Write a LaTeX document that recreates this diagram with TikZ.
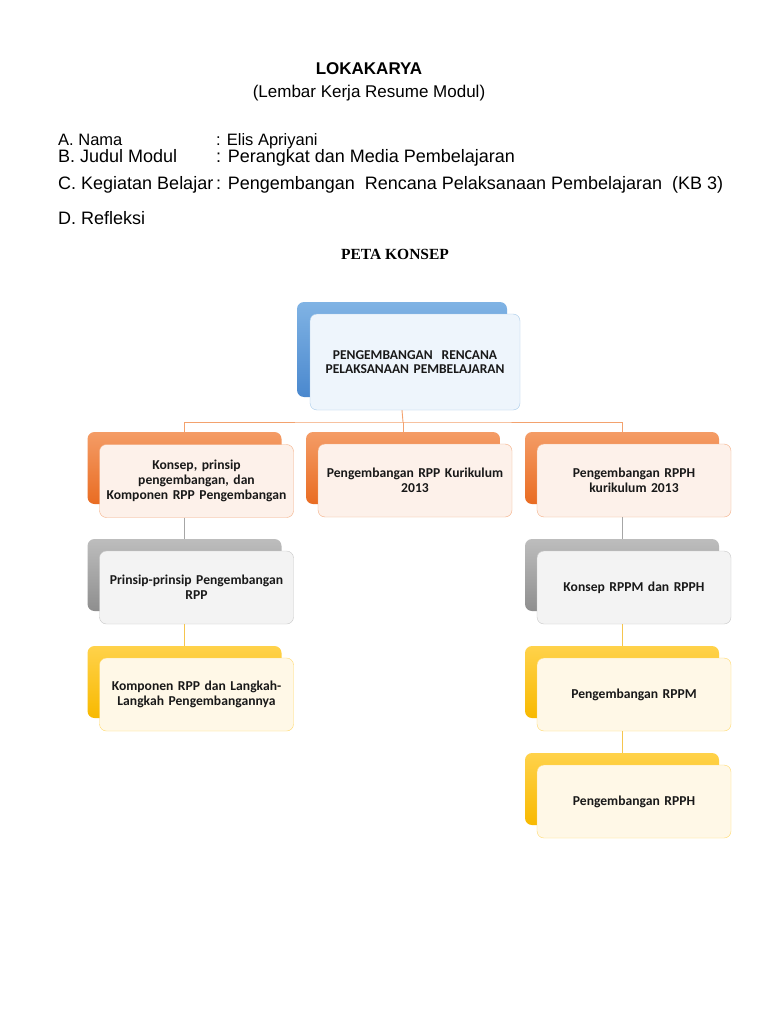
\documentclass[tikz,border=0pt]{standalone}
\usepackage{fontspec}
\setmainfont{Liberation Sans}
\newfontfamily\boxfont{Carlito}
\newfontfamily\titlefont{Liberation Serif}
\usetikzlibrary{positioning,calc}
\definecolor{pkbluetop}{HTML}{80B3E4}
\definecolor{pkbluebot}{HTML}{4A88CE}
\definecolor{pkorangetop}{HTML}{F49C66}
\definecolor{pkorangebot}{HTML}{E96C22}
\definecolor{pkgraytop}{HTML}{BDBDBD}
\definecolor{pkgraybot}{HTML}{8E8E8E}
\definecolor{pkyellowtop}{HTML}{FFD24A}
\definecolor{pkyellowbot}{HTML}{F8B900}
\definecolor{pkline}{HTML}{F3A26E}
\definecolor{pkgrayline}{HTML}{A6A6A6}
\definecolor{pkyellowline}{HTML}{F5C54E}
\definecolor{pkbluefill}{HTML}{EEF5FC}
\definecolor{pkbluedraw}{HTML}{A9CBEA}
\definecolor{pkorangefill}{HTML}{FDF1EA}
\definecolor{pkorangedraw}{HTML}{F4AE84}
\definecolor{pkgrayfill}{HTML}{F3F3F3}
\definecolor{pkgraydraw}{HTML}{C8C8C8}
\definecolor{pkyellowfill}{HTML}{FFF8E7}
\definecolor{pkyellowdraw}{HTML}{FFD96A}

\begin{document}
\begin{tikzpicture}[x=1pt, y=-1pt,
    back/.style={rounded corners=7pt, minimum width=194pt, minimum height=72pt, inner sep=0pt},
    front/.style={draw, rounded corners=7pt, minimum width=194pt, minimum height=73pt, inner sep=2pt,
        text width=190pt, align=center, text=black!90,
        font=\boxfont\bfseries\fontsize{13.6}{15}\selectfont},
    blueback/.style={back, top color=pkbluetop, bottom color=pkbluebot},
    orangeback/.style={back, top color=pkorangetop, bottom color=pkorangebot},
    grayback/.style={back, top color=pkgraytop, bottom color=pkgraybot},
    yellowback/.style={back, top color=pkyellowtop, bottom color=pkyellowbot},
    bluefront/.style={front, fill=pkbluefill, draw=pkbluedraw},
    orangefront/.style={front, fill=pkorangefill, draw=pkorangedraw},
    grayfront/.style={front, fill=pkgrayfill, draw=pkgraydraw},
    yellowfront/.style={front, fill=pkyellowfill, draw=pkyellowdraw},
    link/.style={line width=0.9pt},
    head/.style={anchor=base west, inner sep=0pt, font=\fontsize{18}{21}\selectfont}
]
    \fill[white] (0,0) rectangle (768,1024);
    \useasboundingbox (0,0) rectangle (768,1024);

    % heading
    \node[anchor=base, inner sep=0pt, font=\bfseries\fontsize{17}{20}\selectfont] (judul) at (369,75) {LOKAKARYA};
    \node[anchor=base, inner sep=0pt, font=\fontsize{17}{20}\selectfont] (subjudul) at (369,98) {(Lembar Kerja Resume Modul)};
    \node[head, font=\fontsize{16.5}{20}\selectfont] (nama) at (58,146) {A. Nama};
    \node[head, font=\fontsize{16.5}{20}\selectfont] (namaisi) at (216,146) {: Elis Apriyani};
    \node[head] (modul) at (58,163) {B. Judul Modul};
    \node[head] (modulisi) at (216,163) {: Perangkat dan Media Pembelajaran};
    \node[head] (kb) at (58,190) {C. Kegiatan Belajar};
    \node[head] (kbisi) at (216,190) {: Pengembangan\ \ Rencana Pelaksanaan Pembelajaran\ \ (KB 3)};
    \node[head] (refleksi) at (58,225) {D. Refleksi};
    \node[anchor=base, inner sep=0pt, font=\titlefont\bfseries\fontsize{15.5}{18}\selectfont] (peta) at (395,259) {PETA KONSEP};

    % back boxes
    \node[blueback, minimum width=210pt, minimum height=95pt] (topb) at (402,349.5) {};
    \node[orangeback] (konb) at (184.5,468) {};
    \node[orangeback] (rppb) at (403,468) {};
    \node[orangeback] (rpphb) at (622,468) {};
    \node[grayback] (prinb) at (184.5,575) {};
    \node[grayback] (rppmb) at (622,575) {};
    \node[yellowback] (kompb) at (184.5,682) {};
    \node[yellowback] (pgrppmb) at (622,682) {};
    \node[yellowback] (pgrpphb) at (622,789) {};

    % front boxes
    \node[bluefront, minimum width=210pt, minimum height=96pt, font=\boxfont\bfseries\fontsize{13.5}{14}\selectfont] (top) at ($(topb)+(13,12.5)$)
        {PENGEMBANGAN\ \ RENCANA\\PELAKSANAAN PEMBELAJARAN};
    \node[orangefront] (kon) at ($(konb)+(12,13)$) {Konsep, prinsip\\pengembangan, dan\\Komponen RPP Pengembangan};
    \node[orangefront] (rpp) at ($(rppb)+(12,12.5)$) {Pengembangan RPP Kurikulum\\2013};
    \node[orangefront] (rpph) at ($(rpphb)+(12,12.5)$) {Pengembangan RPPH\\kurikulum 2013};
    \node[grayfront] (prin) at ($(prinb)+(12,12.5)$) {Prinsip-prinsip Pengembangan\\RPP};
    \node[grayfront] (rppm) at ($(rppmb)+(12,12.5)$) {Konsep RPPM dan RPPH};
    \node[yellowfront] (komp) at ($(kompb)+(12,12.5)$) {Komponen RPP dan Langkah-\\Langkah Pengembangannya};
    \node[yellowfront] (pgrppm) at ($(pgrppmb)+(12,12.5)$) {Pengembangan RPPM};
    \node[yellowfront] (pgrpph) at ($(pgrpphb)+(12,12.5)$) {Pengembangan RPPH};

    % connectors
    \coordinate (hub) at (403,422);
    \draw[link, pkline] (topb.center |- top.south) -- (hub);
    \draw[link, pkline] (konb.north) |- (hub) -| (rpphb.north);
    \draw[link, pkline] (hub) -- (rppb.north);
    \draw[link, pkgrayline] (konb.center |- kon.south) -- (prinb.north);
    \draw[link, pkyellowline] (prinb.center |- prin.south) -- (kompb.north);
    \draw[link, pkgrayline] (rpphb.center |- rpph.south) -- (rppmb.north);
    \draw[link, pkyellowline] (rppmb.center |- rppm.south) -- (pgrppmb.north);
    \draw[link, pkyellowline] (pgrppmb.center |- pgrppm.south) -- (pgrpphb.north);
\end{tikzpicture}
\end{document}
